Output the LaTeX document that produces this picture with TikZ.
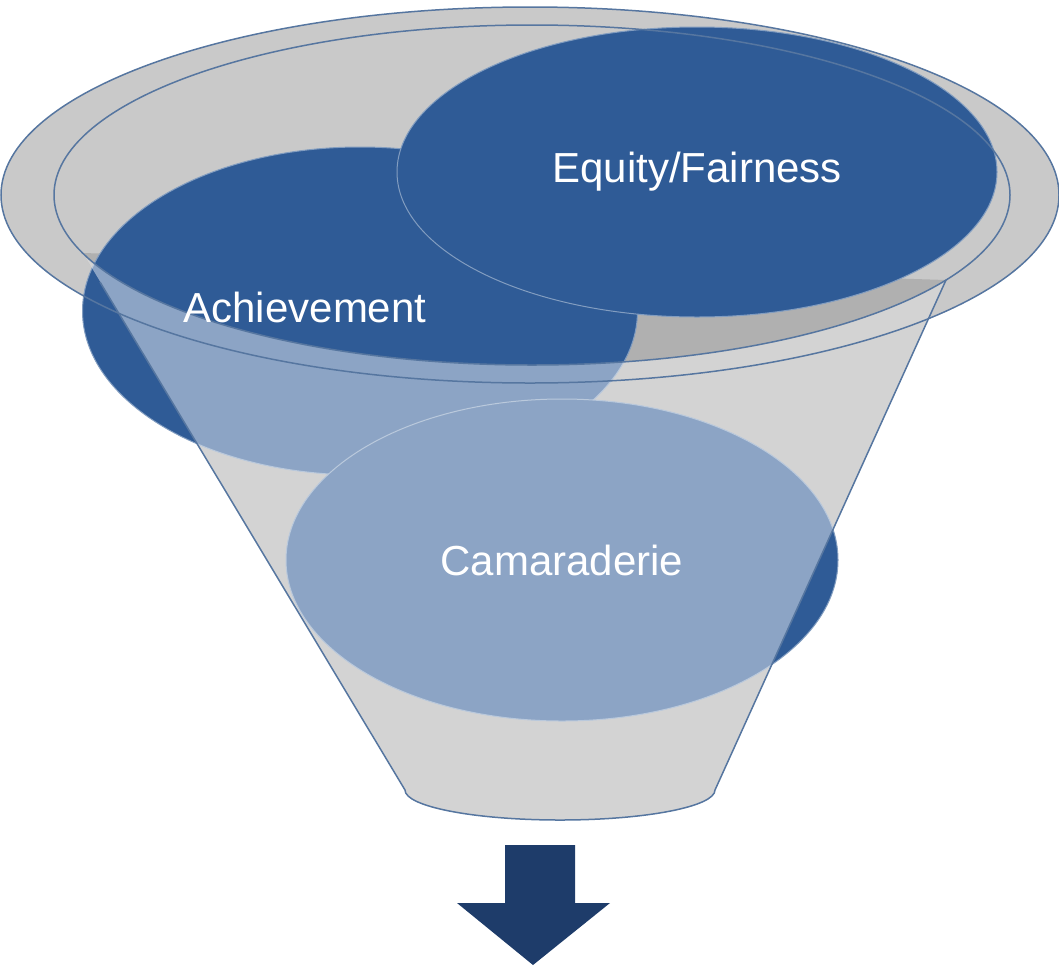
\documentclass[tikz,border=0pt]{standalone}
\usepackage{fontspec}
\setmainfont{Liberation Sans}
\usetikzlibrary{shapes.geometric}
\definecolor{blob}{HTML}{2F5B96}
\definecolor{rim}{HTML}{C9C9C9}
\definecolor{edge}{HTML}{5676A0}
\definecolor{navy}{HTML}{1E3C6A}
\tikzset{
  blob/.style={ellipse, fill=blob, draw=blob!60!white, line width=1},
  label/.style={text=white, font=\fontsize{42}{48}\selectfont},
}
\begin{document}
\begin{tikzpicture}[x=1pt,y=-1pt]
  \useasboundingbox (0,0) rectangle (1059,967);

  % funnel back
  \fill[rim] (530,195) ellipse (529 and 188);
  \fill[gray!62] (83,253) -- (405,790) arc (180:0:155 and 30) -- (946,280) -- cycle;

  % the three circles
  \node[blob, minimum width=555, minimum height=328] (achieve) at (360,311) {};
  \node[blob, minimum width=600, minimum height=290] (equity) at (697,172) {};
  \node[blob, minimum width=552, minimum height=322] (camara) at (562,560) {};

  % front of the funnel
  \fill[white,opacity=0.45] (83,253) -- (405,790) arc (180:0:155 and 30)
     -- (946,280) arc (30:160:478 and 170) -- cycle;
  \draw[edge,line width=1.5] (530,195) ellipse (529 and 188);
  \draw[edge,line width=1.5] (532,195) ellipse (478 and 170);
  \draw[edge,line width=1.5] (100,282) -- (405,790) arc (180:0:155 and 30) -- (946,280);

  % labels
  \node[label] at (equity.center) {Equity/Fairness};
  \node[label] at ([xshift=-55,yshift=4]achieve.center) {Achievement};
  \node[label] at (camara.center) {Camaraderie};

  % output arrow
  \fill[navy] (505,845) -- (575,845) -- (575,903) -- (610,903) -- (533,965)
     -- (457,903) -- (505,903) -- cycle;
\end{tikzpicture}
\end{document}
